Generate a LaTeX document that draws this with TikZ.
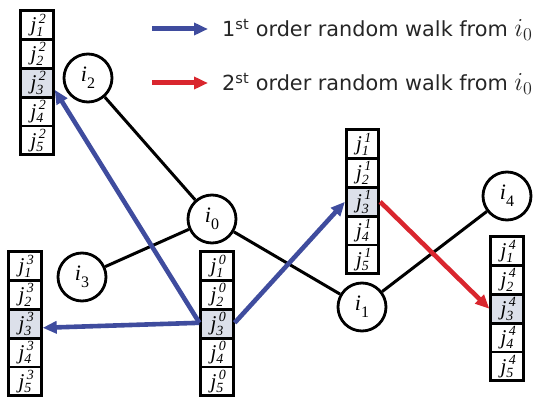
\documentclass[tikz,border=0pt]{standalone}
\usepackage{fontspec}
\setmainfont{DejaVu Sans}
\newfontfamily\tms{Liberation Serif}
\usetikzlibrary{arrows.meta,calc}
\definecolor{walkblue}{HTML}{3F4C9E}
\definecolor{walkred}{HTML}{D9262E}
\definecolor{cellfill}{HTML}{DCE0EA}
\newcommand\jlab[2]{{\tms\itshape\fontsize{21}{21}\selectfont j\makebox[0pt][l]{\hspace{0.12em}\raisebox{0.42em}{\fontsize{14}{14}\selectfont #2}}\raisebox{-0.22em}{\fontsize{14}{14}\selectfont #1}\hspace{0.2em}}}
\newcommand\ilab[1]{{\tms\itshape\fontsize{22}{22}\selectfont i\raisebox{-0.3em}{\upshape\fontsize{16}{16}\selectfont #1}}}
\tikzset{
  cell/.style={draw, line width=2.8pt, minimum width=32.5pt, minimum height=28.8pt, inner sep=0pt, anchor=north west},
  vert/.style={draw, circle, line width=2.8pt, minimum size=48pt, inner sep=0pt, fill=white},
  edge/.style={line width=3pt},
  bluewalk/.style={draw=walkblue, line width=4.6pt, -{Triangle[length=14pt,width=12pt]}},
  redwalk/.style={draw=walkred, line width=4.6pt, -{Triangle[length=14pt,width=12pt]}},
  legtext/.style={anchor=west, font=\fontsize{20.8}{21}\selectfont, text=black!85, inner sep=0pt}
}
\newcommand\mkstack[4]{%
  \foreach \k/\f in {1/white,2/white,3/cellfill,4/white,5/white}{%
    \node[cell, fill=\f] (#1-\k) at (#2, {#3+(\k-1)*28.8}) {\jlab{\k}{#4}};
  }%
}
\begin{document}
\begin{tikzpicture}[x=1pt,y=-1pt]
\useasboundingbox (0,0) rectangle (547,404);
% vertices
\node[vert] (i2) at (88,78) {\ilab{2}};
\node[vert] (i0) at (212,219) {\ilab{0}};
\node[vert] (i3) at (82,277) {\ilab{3}};
\node[vert] (i1) at (362,307) {\ilab{1}};
\node[vert] (i4) at (507,196) {\ilab{4}};
% graph edges
\draw[edge] (i2) -- (i0);
\draw[edge] (i3) -- (i0);
\draw[edge] (i0) -- (i1);
\draw[edge] (i1) -- (i4);
% stacks
\mkstack{s2}{19.4}{9.4}{2}
\mkstack{s3}{7.4}{250.4}{3}
\mkstack{s0}{199.4}{250.4}{0}
\mkstack{s1}{344.9}{128.4}{1}
\mkstack{s4}{489.4}{235.4}{4}
% walks
\draw[bluewalk] ($(s0-3.west)+(0,-1)$) -- ($(s2-3.east)+(0,7)$);
\draw[bluewalk] ($(s0-3.west)+(0,-1)$) -- ($(s3-3.east)+(0,4)$);
\draw[bluewalk] ($(s0-3.east)+(0,-1)$) -- (s1-3.west);
\draw[redwalk] (s1-3.east) -- (s4-3.west);
% legend
\coordinate (b1) at (152,29);
\coordinate (b2) at (208,29);
\coordinate (r1) at (152,83);
\coordinate (r2) at (208,83);
\draw[bluewalk, line width=5pt] (b1) -- (b2);
\draw[redwalk, line width=5pt] (r1) -- (r2);
\node[legtext] (l1) at (222,30) {1\textsuperscript{st} order random walk from \scalebox{1.25}{$i_0$}};
\node[legtext] (l2) at (222,84) {2\textsuperscript{st} order random walk from \scalebox{1.25}{$i_0$}};
\end{tikzpicture}
\end{document}
